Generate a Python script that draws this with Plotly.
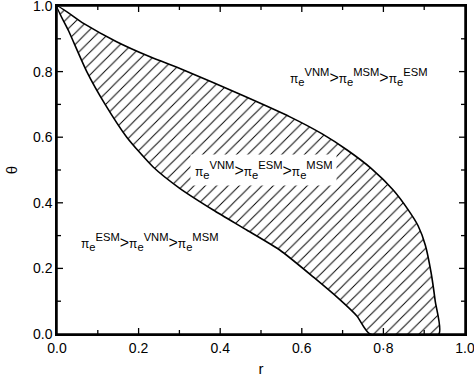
import plotly.graph_objects as go

# lower boundary (from (0,1) down to theta=0)
lower_r = [0.0, 0.030, 0.073, 0.118, 0.171, 0.235, 0.300, 0.383, 0.465, 0.546, 0.628, 0.694, 0.735, 0.767]
lower_t = [1.0, 0.920, 0.800, 0.700, 0.600, 0.510, 0.445, 0.378, 0.317, 0.256, 0.174, 0.104, 0.055, 0.0]
# upper boundary (from (0,1) down to theta=0)
upper_r = [0.0, 0.065, 0.146, 0.228, 0.310, 0.450, 0.571, 0.650, 0.711, 0.770, 0.824, 0.860, 0.885, 0.903, 0.917, 0.927, 0.936]
upper_t = [1.0, 0.947, 0.891, 0.845, 0.805, 0.730, 0.662, 0.610, 0.561, 0.505, 0.439, 0.380, 0.330, 0.270, 0.186, 0.100, 0.0]

x_ticks = [0.0, 0.2, 0.4, 0.6, 0.8, 1.0]
x_labels = ["0.0", "0.2", "0.4", "0.6", "0·8", "1.0"]
y_ticks = [0.0, 0.2, 0.4, 0.6, 0.8, 1.0]
y_labels = ["0.0", "0.2", "0.4", "0.6", "0.8", "1.0"]
minor_ticks = [0.1, 0.3, 0.5, 0.7, 0.9]

poly_r = lower_r + upper_r[::-1]
poly_t = lower_t + upper_t[::-1]

PLOT_W, PLOT_H = 408, 328  # plot area in pixels
RANGE = [0, 1]

fig = go.Figure()
fig.add_trace(go.Scatter(
    x=poly_r, y=poly_t, mode="lines", fill="toself",
    line=dict(color="black", width=1.6, shape="spline", smoothing=0.6),
    fillcolor="rgba(255,255,255,0)",
    fillpattern=dict(shape="/", size=8, solidity=0.12, fgcolor="black", bgcolor="white"),
    hoverinfo="skip", showlegend=False))

# inward tick marks on all four sides (axis range maps 1:1 onto the paper domain)
def to_paper(v):
    return (v - RANGE[0]) / (RANGE[1] - RANGE[0])

shapes = []
def add_ticks(vals, length):
    lx = length / PLOT_W
    ly = length / PLOT_H
    ln = dict(color="black", width=1.3)
    for v in vals:
        p = to_paper(v)
        shapes.append(dict(type="line", xref="paper", yref="paper", x0=p, x1=p, y0=0, y1=ly, line=ln, layer="above"))
        shapes.append(dict(type="line", xref="paper", yref="paper", x0=p, x1=p, y0=1, y1=1 - ly, line=ln, layer="above"))
        shapes.append(dict(type="line", xref="paper", yref="paper", y0=p, y1=p, x0=0, x1=lx, line=ln, layer="above"))
        shapes.append(dict(type="line", xref="paper", yref="paper", y0=p, y1=p, x0=1, x1=1 - lx, line=ln, layer="above"))
add_ticks(x_ticks[1:-1], 6)
add_ticks(minor_ticks, 4)
shapes.append(dict(type="rect", xref="paper", yref="paper", x0=0, y0=0, x1=1, y1=1,
                   line=dict(color="black", width=1.5), layer="above"))

def lab(a, b, c):
    t = "<span style='font-size:12px'>π</span><sub>e</sub><sup>%s</sup>"
    return (t % a) + ">" + (t % b) + ">" + (t % c)

font = dict(family="Liberation Sans, Arial", size=16, color="black")
fig.add_annotation(x=0.74, y=0.785, text=lab("VNM", "MSM", "ESM"), showarrow=False, font=font)
fig.add_annotation(x=0.507, y=0.50, text=lab("VNM", "ESM", "MSM"), showarrow=False, font=font,
                   bgcolor="white", borderpad=4)
fig.add_annotation(x=0.227, y=0.282, text=lab("ESM", "VNM", "MSM"), showarrow=False, font=font)

tickfont = dict(family="Liberation Sans, Arial", size=14, color="black")
axis_common = dict(showgrid=False, zeroline=False, showline=True, linecolor="black", linewidth=1.5,
                   mirror=True, ticks="", tickmode="array", tickfont=tickfont,
                   ticklabeloverflow="allow")

fig.update_layout(
    xaxis=dict(range=RANGE, tickvals=x_ticks, ticktext=x_labels,
               title=dict(text="r", font=dict(family="Liberation Sans, Arial", size=15, color="black"), standoff=9),
               **axis_common),
    yaxis=dict(range=RANGE, tickvals=y_ticks, ticktext=y_labels,
               title=dict(text="θ", font=dict(family="Liberation Sans, Arial", size=15, color="black"), standoff=12),
               **axis_common),
    shapes=shapes,
    template="none", width=474, height=378, margin=dict(l=57, r=9, t=6, b=44),
    plot_bgcolor="white", paper_bgcolor="white")
fig.write_html("out.html", config={"displayModeBar": False},
               post_script="document.body.style.margin='0';document.body.style.overflow='hidden';")
